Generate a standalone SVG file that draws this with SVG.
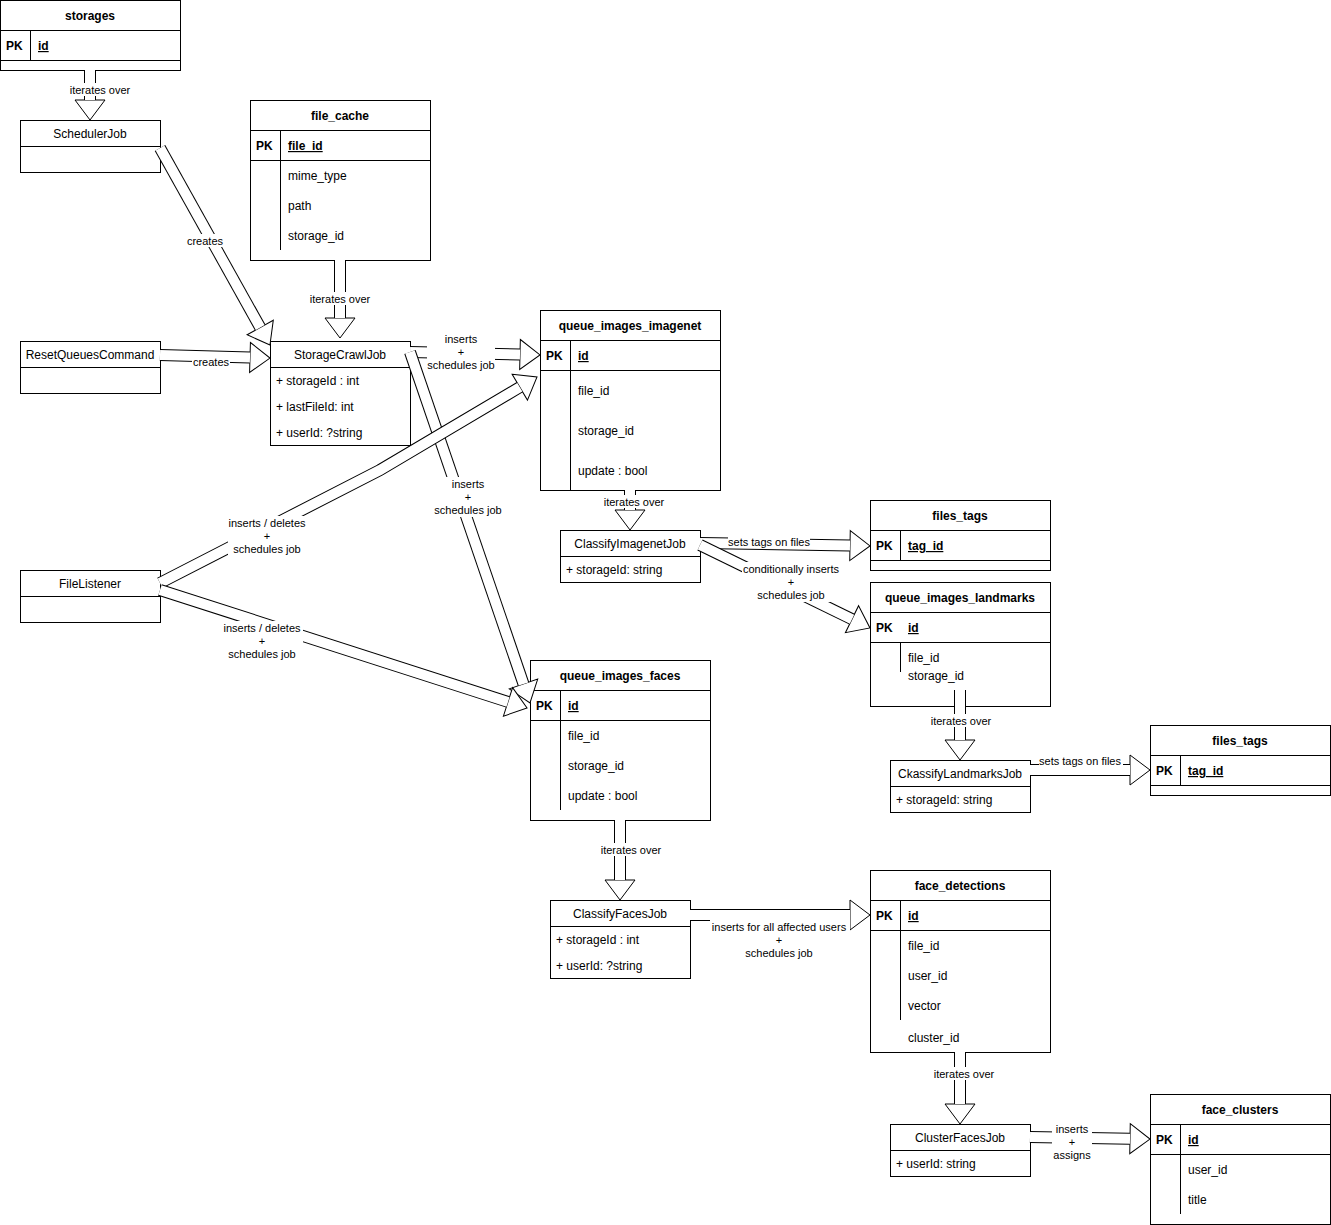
<svg xmlns="http://www.w3.org/2000/svg" width="1331" height="1225" viewBox="0 0 1331 1225">
<style>
text{font-family:"Liberation Sans",Arial,sans-serif;font-size:12px;fill:#000}
.b{font-weight:bold}.c{text-anchor:middle}.u{text-decoration:underline}
.box{fill:#fff;stroke:#000;stroke-width:1}
.ln{stroke:#000;stroke-width:1;fill:none}
.sk{fill:none;stroke:#000;stroke-width:12;stroke-linejoin:miter;marker-end:url(#h)}
.sw{fill:none;stroke:#fff;stroke-width:10;stroke-linejoin:miter}
.lb{font-size:11px;text-anchor:middle}
.lbg{fill:#fff}
</style>
<defs>
<marker id="h" markerUnits="userSpaceOnUse" viewBox="-1 -16 22 32" refX="0" refY="0" markerWidth="22" markerHeight="32" orient="auto" overflow="visible">
<polygon points="0,-15 20,0 0,15" fill="#fff" stroke="#000" stroke-width="1"/>
</marker>
</defs>
<rect width="1331" height="1225" fill="#fff"/>

<g id="storages"><rect class="box" x="0.5" y="0.5" width="180" height="70"/><path class="ln" d="M0.5 30.5H180.5M0.5 60.5H180.5M30.5 30.5V60.5"/><text class="b c" x="90" y="20">storages</text><text class="b" x="6" y="50">PK</text><text class="b u" x="38" y="50">id</text></g>

<g id="file_cache"><rect class="box" x="250.5" y="100.5" width="180" height="160"/><path class="ln" d="M250.5 130.5H430.5M250.5 160.5H430.5M280.5 130.5V250"/><text class="b c" x="340" y="120">file_cache</text><text class="b" x="256" y="150">PK</text><text class="b u" x="288" y="150">file_id</text><text x="288" y="180">mime_type</text><text x="288" y="210">path</text><text x="288" y="240">storage_id</text></g>

<g id="queue_images_imagenet"><rect class="box" x="540.5" y="310.5" width="180" height="180"/><path class="ln" d="M540.5 340.5H720.5M540.5 370.5H720.5M570.5 340.5V490"/><text class="b c" x="630" y="330">queue_images_imagenet</text><text class="b" x="546" y="360">PK</text><text class="b u" x="578" y="360">id</text><text x="578" y="395">file_id</text><text x="578" y="435">storage_id</text><text x="578" y="475">update : bool</text></g>

<g id="files_tags"><rect class="box" x="870.5" y="500.5" width="180" height="70"/><path class="ln" d="M870.5 530.5H1050.5M870.5 560.5H1050.5M900.5 530.5V560.5"/><text class="b c" x="960" y="520">files_tags</text><text class="b" x="876" y="550">PK</text><text class="b u" x="908" y="550">tag_id</text></g>

<g id="queue_images_landmarks"><rect class="box" x="870.5" y="582.5" width="180" height="124"/><path class="ln" d="M870.5 612.5H1050.5M870.5 642.5H1050.5M900.5 642.5V672"/><text class="b c" x="960" y="602">queue_images_landmarks</text><text class="b" x="876" y="632">PK</text><text class="b u" x="908" y="632">id</text><text x="908" y="662">file_id</text><text x="908" y="680">storage_id</text></g>

<g id="files_tags2"><rect class="box" x="1150.5" y="725.5" width="180" height="70"/><path class="ln" d="M1150.5 755.5H1330.5M1150.5 785.5H1330.5M1180.5 755.5V785.5"/><text class="b c" x="1240" y="745">files_tags</text><text class="b" x="1156" y="775">PK</text><text class="b u" x="1188" y="775">tag_id</text></g>

<g id="queue_images_faces"><rect class="box" x="530.5" y="660.5" width="180" height="160"/><path class="ln" d="M530.5 690.5H710.5M530.5 720.5H710.5M560.5 690.5V810"/><text class="b c" x="620" y="680">queue_images_faces</text><text class="b" x="536" y="710">PK</text><text class="b u" x="568" y="710">id</text><text x="568" y="740">file_id</text><text x="568" y="770">storage_id</text><text x="568" y="800">update : bool</text></g>

<g id="face_detections"><rect class="box" x="870.5" y="870.5" width="180" height="182"/><path class="ln" d="M870.5 900.5H1050.5M870.5 930.5H1050.5M900.5 900.5V1020"/><text class="b c" x="960" y="890">face_detections</text><text class="b" x="876" y="920">PK</text><text class="b u" x="908" y="920">id</text><text x="908" y="950">file_id</text><text x="908" y="980">user_id</text><text x="908" y="1010">vector</text><text x="908" y="1042">cluster_id</text></g>

<g id="face_clusters"><rect class="box" x="1150.5" y="1094.5" width="180" height="130"/><path class="ln" d="M1150.5 1124.5H1330.5M1150.5 1154.5H1330.5M1180.5 1124.5V1214"/><text class="b c" x="1240" y="1114">face_clusters</text><text class="b" x="1156" y="1144">PK</text><text class="b u" x="1188" y="1144">id</text><text x="1188" y="1174">user_id</text><text x="1188" y="1204">title</text></g>

<g id="SchedulerJob"><rect class="box" x="20.5" y="120.5" width="140" height="52"/><path class="ln" d="M20.5 146.5H160.5"/><text class="c" x="90" y="138">SchedulerJob</text></g>
<g id="ResetQueuesCommand"><rect class="box" x="20.5" y="341.5" width="140" height="52"/><path class="ln" d="M20.5 367.5H160.5"/><text class="c" x="90" y="359">ResetQueuesCommand</text></g>
<g id="StorageCrawlJob"><rect class="box" x="270.5" y="341.5" width="140" height="104"/><path class="ln" d="M270.5 367.5H410.5"/><text class="c" x="340" y="359">StorageCrawlJob</text><text x="276" y="385">+ storageId : int</text><text x="276" y="411">+ lastFileId: int</text><text x="276" y="437">+ userId: ?string</text></g>
<g id="FileListener"><rect class="box" x="20.5" y="570.5" width="140" height="52"/><path class="ln" d="M20.5 596.5H160.5"/><text class="c" x="90" y="588">FileListener</text></g>
<g id="ClassifyImagenetJob"><rect class="box" x="560.5" y="530.5" width="140" height="52"/><path class="ln" d="M560.5 556.5H700.5"/><text class="c" x="630" y="548">ClassifyImagenetJob</text><text x="566" y="574">+ storageId: string</text></g>
<g id="CkassifyLandmarksJob"><rect class="box" x="890.5" y="760.5" width="140" height="52"/><path class="ln" d="M890.5 786.5H1030.5"/><text class="c" x="960" y="778">CkassifyLandmarksJob</text><text x="896" y="804">+ storageId: string</text></g>
<g id="ClassifyFacesJob"><rect class="box" x="550.5" y="900.5" width="140" height="78"/><path class="ln" d="M550.5 926.5H690.5"/><text class="c" x="620" y="918">ClassifyFacesJob</text><text x="556" y="944">+ storageId : int</text><text x="556" y="970">+ userId: ?string</text></g>
<g id="ClusterFacesJob"><rect class="box" x="890.5" y="1124.5" width="140" height="52"/><path class="ln" d="M890.5 1150.5H1030.5"/><text class="c" x="960" y="1142">ClusterFacesJob</text><text x="896" y="1168">+ userId: string</text></g>

<g id="connectors">
<path class="sk" d="M90 70V100"/><path class="sw" d="M90 70V100"/>
<path class="sk" d="M160 148L260.2 327.5"/><path class="sw" d="M160 148L260.2 327.5"/>
<path class="sk" d="M160 355L250 357.5"/><path class="sw" d="M160 355L250 357.5"/>
<path class="sk" d="M340 260V318"/><path class="sw" d="M340 260V318"/>
<path class="sk" d="M410 352L520 354.5"/><path class="sw" d="M410 352L520 354.5"/>
<path class="sk" d="M410 352L523.5 684"/><path class="sw" d="M410 352L523.5 684"/>
<path class="sk" d="M160 583L380 470L519.8 387.2"/><path class="sw" d="M160 583L380 470L519.8 387.2"/>
<path class="sk" d="M160 590L508 701.9"/><path class="sw" d="M160 590L508 701.9"/>
<path class="sk" d="M630 490V510"/><path class="sw" d="M630 490V510"/>
<path class="sk" d="M700 543L850 545.6"/><path class="sw" d="M700 543L850 545.6"/>
<path class="sk" d="M700 545L852 619.2"/><path class="sw" d="M700 545L852 619.2"/>
<path class="sk" d="M960 690V740"/><path class="sw" d="M960 690V740"/>
<path class="sk" d="M1030 770H1130"/><path class="sw" d="M1030 770H1130"/>
<path class="sk" d="M620 820V880"/><path class="sw" d="M620 820V880"/>
<path class="sk" d="M690 915H850"/><path class="sw" d="M690 915H850"/>
<path class="sk" d="M960 1052V1104"/><path class="sw" d="M960 1052V1104"/>
<path class="sk" d="M1030 1137L1130 1138.7"/><path class="sw" d="M1030 1137L1130 1138.7"/>

<rect class="lbg" x="69" y="83" width="62" height="13"/><text class="lb" x="100" y="94">iterates over</text>
<rect class="lbg" x="186" y="234" width="38" height="13"/><text class="lb" x="205" y="245">creates</text>
<rect class="lbg" x="192" y="355" width="38" height="13"/><text class="lb" x="211" y="366">creates</text>
<rect class="lbg" x="309" y="292" width="62" height="13"/><text class="lb" x="340" y="303">iterates over</text>
<rect class="lbg" x="427" y="332" width="68" height="40"/><text class="lb" x="461" y="343">inserts</text><text class="lb" x="461" y="356">+</text><text class="lb" x="461" y="369">schedules job</text>
<rect class="lbg" x="434" y="477" width="68" height="40"/><text class="lb" x="468" y="488">inserts</text><text class="lb" x="468" y="501">+</text><text class="lb" x="468" y="514">schedules job</text>
<rect class="lbg" x="228" y="516" width="80" height="40"/><text class="lb" x="267" y="527">inserts / deletes</text><text class="lb" x="267" y="540">+</text><text class="lb" x="267" y="553">schedules job</text>
<rect class="lbg" x="223" y="621" width="80" height="40"/><text class="lb" x="262" y="632">inserts / deletes</text><text class="lb" x="262" y="645">+</text><text class="lb" x="262" y="658">schedules job</text>
<rect class="lbg" x="603" y="495" width="62" height="13"/><text class="lb" x="634" y="506">iterates over</text>
<rect class="lbg" x="728" y="535" width="82" height="13"/><text class="lb" x="769" y="546">sets tags on files</text>
<rect class="lbg" x="742" y="562" width="100" height="40"/><text class="lb" x="791" y="573">conditionally inserts</text><text class="lb" x="791" y="586">+</text><text class="lb" x="791" y="599">schedules job</text>
<rect class="lbg" x="930" y="714" width="62" height="13"/><text class="lb" x="961" y="725">iterates over</text>
<rect class="lbg" x="1039" y="754" width="84" height="13"/><text class="lb" x="1080" y="765">sets tags on files</text>
<rect class="lbg" x="600" y="843" width="62" height="13"/><text class="lb" x="631" y="854">iterates over</text>
<rect class="lbg" x="710" y="920" width="140" height="40"/><text class="lb" x="779" y="931">inserts for all affected users</text><text class="lb" x="779" y="944">+</text><text class="lb" x="779" y="957">schedules job</text>
<rect class="lbg" x="933" y="1067" width="62" height="13"/><text class="lb" x="964" y="1078">iterates over</text>
<rect class="lbg" x="1052" y="1122" width="40" height="40"/><text class="lb" x="1072" y="1133">inserts</text><text class="lb" x="1072" y="1146">+</text><text class="lb" x="1072" y="1159">assigns</text>
</g>
</svg>
